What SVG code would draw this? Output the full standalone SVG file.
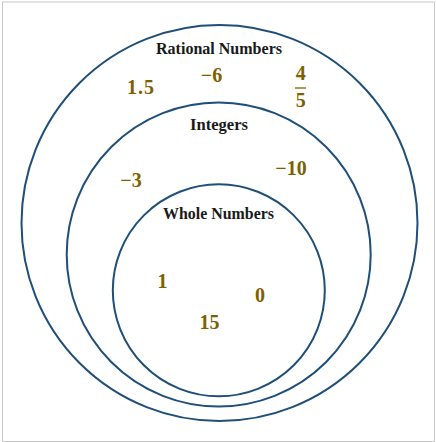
<svg xmlns="http://www.w3.org/2000/svg" width="436" height="442" viewBox="0 0 436 442">
<style>
.ring{fill:none;stroke:#1f4e79;stroke-width:2}
.lbl{font-family:"Liberation Serif","DejaVu Serif",serif;font-weight:bold;font-size:16.5px;fill:#1a1a1a;text-anchor:middle}
.num{font-family:"Liberation Serif","DejaVu Serif",serif;font-weight:bold;font-size:20px;fill:#7f6000;text-anchor:middle}
</style>
<rect x="2.5" y="2" width="432" height="439.5" fill="#ffffff" stroke="#c8c8c8" stroke-width="1"/>
<g id="rational">
<circle class="ring" cx="219.5" cy="223" r="198"/>
<text class="lbl" x="219" y="53.5" textLength="126" lengthAdjust="spacingAndGlyphs">Rational Numbers</text>
<text class="num" x="140.5" y="93.5" textLength="27" lengthAdjust="spacing">1.5</text>
<text class="num" x="211.5" y="82">−6</text>
<text class="num" x="300.7" y="80">4</text>
<line x1="295" y1="88" x2="306" y2="88" stroke="#7f6000" stroke-width="1.3"/>
<text class="num" x="300.7" y="106.5">5</text>
</g>
<g id="integers">
<circle class="ring" cx="218.7" cy="254.5" r="152"/>
<text class="lbl" x="219" y="129.8" textLength="58" lengthAdjust="spacingAndGlyphs">Integers</text>
<text class="num" x="131" y="186.7">−3</text>
<text class="num" x="291" y="174.7">−10</text>
</g>
<g id="whole">
<circle class="ring" cx="218.8" cy="290.3" r="106"/>
<text class="lbl" x="218.5" y="218.8" textLength="111" lengthAdjust="spacingAndGlyphs">Whole Numbers</text>
<text class="num" x="162.5" y="288.3">1</text>
<text class="num" x="260" y="302.3">0</text>
<text class="num" x="209.5" y="329.3">15</text>
</g>
<g id="connectors"/>
</svg>
